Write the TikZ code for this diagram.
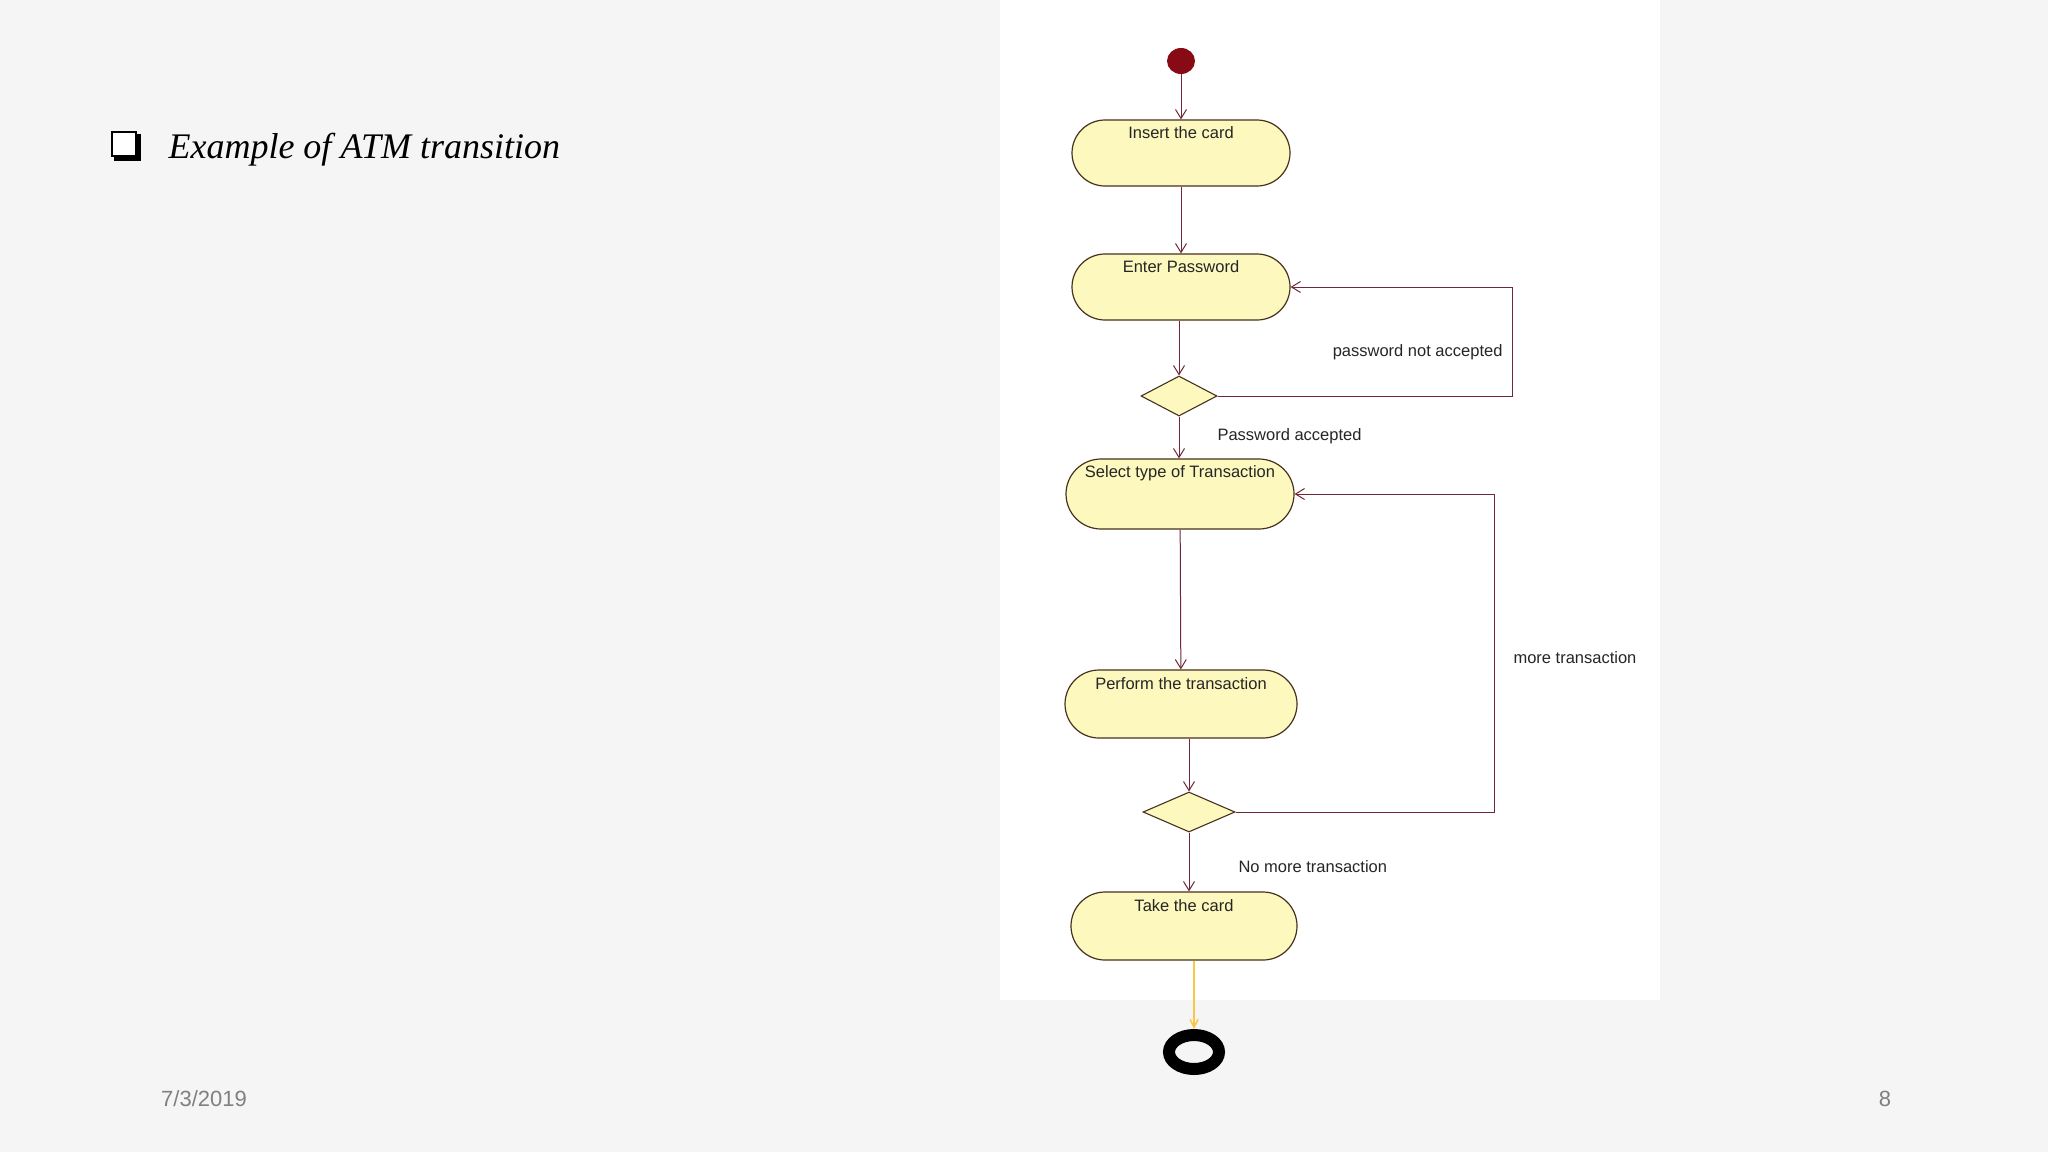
\documentclass[tikz,border=0pt]{standalone}
\usepackage{fontspec}
\setmainfont{Liberation Sans}
\newfontfamily\titlefont{Liberation Serif}
\usetikzlibrary{arrows.meta,shapes.geometric,shapes.misc}
\definecolor{flow}{RGB}{110,40,55}
\definecolor{actfill}{RGB}{252,248,190}
\definecolor{actline}{RGB}{70,50,30}
\definecolor{bg}{RGB}{245,245,246}
\tikzset{
  x=1pt,y=-1pt,
  act/.style={draw=actline,line width=1.2pt,fill=actfill,rounded rectangle,minimum width=#1,minimum height=66pt,inner sep=0pt},
  dec/.style={draw=actline,line width=1.1pt,fill=actfill,diamond,minimum width=#1,minimum height=40pt,inner sep=0pt},
  tr/.style={draw=flow,line width=1pt,-{Straight Barb[length=9pt,width=11pt]}},
  lbl/.style={font=\fontsize{16.5}{19}\selectfont,text=black!85},
  albl/.style={font=\fontsize{16.5}{19}\selectfont,text=black!85,anchor=north}
}
\begin{document}
\begin{tikzpicture}
\useasboundingbox (0,0) rectangle (2048,1152);
\fill[bg] (0,0) rectangle (2048,1152);
\fill[white] (1000,0) rectangle (1660,1000);
% title
\fill[black] (114,134) rectangle (141,161);
\node (box) [draw=black,fill=white,line width=2.5pt,minimum size=24pt,inner sep=0pt] at (124,144) {};
\node (title) [anchor=west,font=\titlefont\itshape\fontsize{36}{42}\selectfont] at (165,150) {Example of ATM transition};
\node (date) [text=black!50,font=\fontsize{22}{26}\selectfont] at (204,1099) {7/3/2019};
\node (page) [text=black!50,font=\fontsize{22}{26}\selectfont] at (1885,1099) {8};
% diagram
\node (start) [ellipse,fill={rgb,255:red,135;green,10;blue,20},minimum width=28pt,minimum height=26pt,inner sep=0pt] at (1181,61) {};
\node (insert) [act=218pt] at (1181,153) {};
\node[albl] at (insert.north) [yshift=-4pt] {Insert the card};
\node (pass) [act=218pt] at (1181,287) {};
\node[albl] at (pass.north) [yshift=-4pt] {Enter Password};
\node (d1) [dec=76pt] at (1179,396) {};
\node (sel) [act=228pt,minimum height=70pt] at (1180,494) {};
\node[albl] at (sel.north) [yshift=-4pt] {Select type of Transaction};
\node (perf) [act=232pt,minimum height=68pt] at (1181,704) {};
\node[albl] at (perf.north) [yshift=-5pt] {Perform the transaction};
\node (d2) [dec=92pt,minimum height=40pt] at (1189,812) {};
\node (take) [act=226pt,minimum height=68pt] at (1184,926) {};
\node[albl] at (take.north) [yshift=-5pt] {Take the card};
\node (stop) [ellipse,draw=black,line width=12pt,minimum width=50pt,minimum height=34pt,inner sep=0pt] at (1194,1052) {};
% connectors
\draw[tr] (start) -- (insert);
\draw[tr] (insert) -- (pass);
\draw[tr] (pass.south -| d1) -- (d1);
\draw[tr] (d1) -- (sel.north -| d1);
\draw[tr] (d1.east) -- (1512,396) coordinate (c1) |- (pass.east);
\node[lbl,anchor=east] at (1506,352) {password not accepted};
\node[lbl,anchor=west] at (1214,436) {Password accepted};
\draw[tr] (sel) -- (perf);
\draw[tr] (perf.south -| d2) -- (d2);
\draw[tr] (d2.east) -- (1494,812) coordinate (c2) |- (sel.east);
\node[lbl,anchor=west] at (1510,658) {more transaction};
\draw[tr] (d2) -- (take.north -| d2);
\node[lbl,anchor=west] at (1235,867) {No more transaction};
\draw[draw={rgb,255:red,250;green,200;blue,70},line width=1.5pt,-{Straight Barb[length=8pt,width=8pt]}] (take.south -| stop) -- (stop.north);
\end{tikzpicture}
\end{document}
